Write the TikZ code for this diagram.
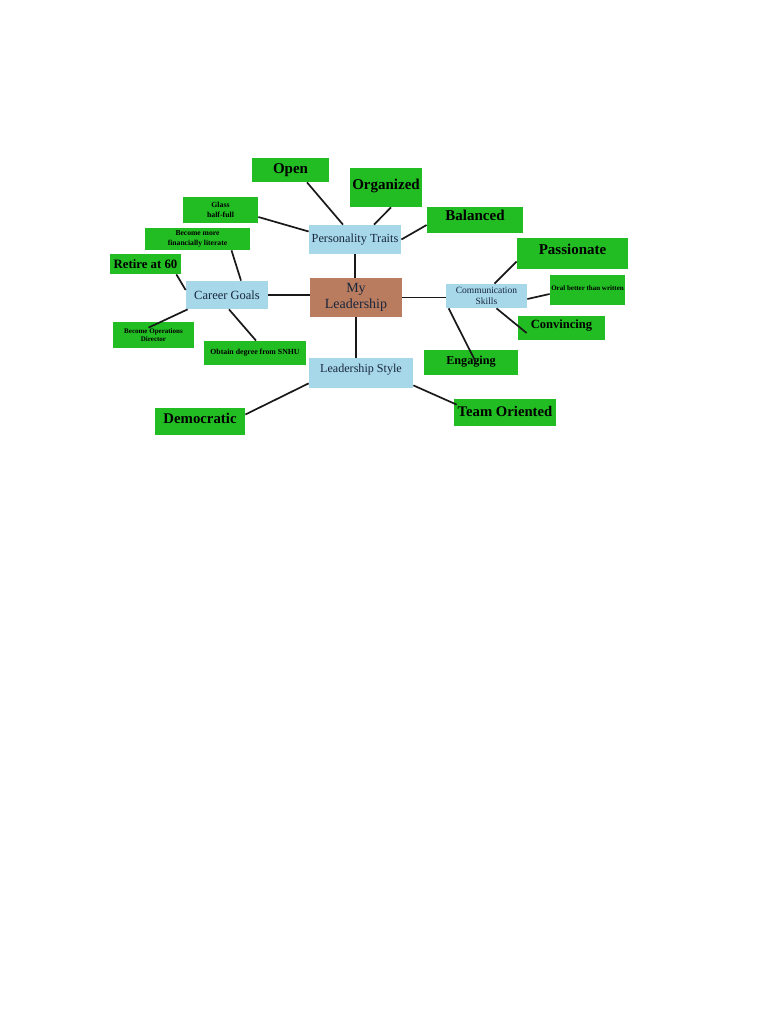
\documentclass[tikz,border=0pt]{standalone}
\usepackage{fontspec}
\setmainfont{Liberation Serif}
\usetikzlibrary{calc}

\definecolor{leafgreen}{RGB}{34,189,34}
\definecolor{topicblue}{RGB}{166,216,234}
\definecolor{corebrown}{RGB}{185,124,94}
\definecolor{topicink}{RGB}{25,38,60}

\tikzset{every picture/.style={line width=0.75pt},
  leaf/.style={fill=leafgreen, inner sep=0pt, align=center, font=\bfseries},
  topic/.style={fill=topicblue, inner sep=0pt, align=center, text=topicink},
  link/.style={draw=black!90, line width=1.7pt}}

\begin{document}
\begin{tikzpicture}[x=1pt,y=1pt,yscale=-1,xscale=1]
\useasboundingbox (0,0) rectangle (768,1024);

% Centre
\node [fill=corebrown, inner sep=0pt, align=center, minimum width=92pt, minimum height=39pt, font=\fontsize{14}{16}\selectfont, text=topicink] (ml) at (356,297.5) {My\\Leadership};

% Topics
\node [topic, minimum width=92pt, minimum height=29pt, font=\fontsize{12.3}{14}\selectfont] (pt) at (355,239.5) {Personality Traits};
\node [topic, minimum width=82pt, minimum height=28pt, font=\fontsize{12.5}{14}\selectfont] (cg) at (227,295) {Career Goals};
\node [topic, minimum width=81pt, minimum height=24pt, font=\fontsize{9.5}{11.5}\selectfont] (cs) at (486.5,296) {Communication\\Skills};
\node [topic, minimum width=104pt, minimum height=30pt, text depth=9pt, font=\fontsize{12.1}{14}\selectfont] (ls) at (361,373) {Leadership Style};

% Personality traits
\node [leaf, minimum width=77pt, minimum height=24pt, font=\bfseries\fontsize{15}{17}\selectfont] (open) at (290.5,170) {Open};
\node [leaf, minimum width=72pt, minimum height=39pt, text depth=7pt, font=\bfseries\fontsize{15}{17}\selectfont] (organized) at (386,187.5) {Organized};
\node [leaf, minimum width=75pt, minimum height=26pt, font=\bfseries\fontsize{7.8}{10}\selectfont] (glass) at (220.5,210) {Glass\\half-full};
\node [leaf, minimum width=96pt, minimum height=26pt, text depth=9pt, font=\bfseries\fontsize{15}{17}\selectfont] (balanced) at (475,220) {Balanced};

% Career goals
\node [leaf, minimum width=105pt, minimum height=22pt, font=\bfseries\fontsize{7.6}{9.5}\selectfont] (fin) at (197.5,239) {Become more\\financially literate};
\node [leaf, minimum width=71pt, minimum height=20pt, font=\bfseries\fontsize{12.8}{14}\selectfont] (retire) at (145.5,264) {Retire at 60};
\node [leaf, minimum width=81pt, minimum height=26pt, font=\bfseries\fontsize{7}{8.5}\selectfont] (ops) at (153.5,335) {Become Operations\\Director};
\node [leaf, minimum width=102pt, minimum height=24pt, font=\bfseries\fontsize{7.8}{9}\selectfont] (snhu) at (255,353) {Obtain degree from SNHU};

% Communication skills
\node [leaf, minimum width=111pt, minimum height=31pt, text depth=8pt, font=\bfseries\fontsize{15}{17}\selectfont] (passionate) at (572.5,253.5) {Passionate};
\node [leaf, minimum width=75pt, minimum height=30pt, text depth=3pt, font=\bfseries\fontsize{7}{8}\selectfont] (oral) at (587.5,290) {Oral better than written};
\node [leaf, minimum width=87pt, minimum height=24pt, text depth=7pt, font=\bfseries\fontsize{12.5}{14}\selectfont] (convincing) at (561.5,328) {Convincing};
\node [leaf, minimum width=94pt, minimum height=25pt, text depth=5pt, font=\bfseries\fontsize{12.2}{14}\selectfont] (engaging) at (471,362.5) {Engaging};

% Leadership style
\node [leaf, minimum width=90pt, minimum height=27pt, text depth=6pt, font=\bfseries\fontsize{14.8}{17}\selectfont] (democratic) at (200,421.5) {Democratic};
\node [leaf, minimum width=102pt, minimum height=27pt, text depth=3pt, font=\bfseries\fontsize{14.7}{17}\selectfont] (team) at (505,412.5) {Team Oriented};

% Links from the centre
\draw [link] (pt.south) -- (pt.south |- ml.north);
\draw [link] (cg.east) -- (cg.east -| ml.west);
\draw [link] (ml.east) -- (ml.east -| cs.west);
\draw [link] (ml.south) -- (ml.south |- ls.north);

% Links to traits
\draw [link] ($(open.south)+(16.5,0)$) -- ($(pt.north)+(-12,0)$);
\draw [link] ($(organized.south)+(5,0)$) -- ($(pt.north)+(19,0)$);
\draw [link] ($(glass.east)+(0,7)$) -- ($(pt.west)+(0,-8)$);
\draw [link] ($(balanced.west)+(0,5)$) -- (pt.east);

% Links to goals
\draw [link] ($(fin.south)+(34,0)$) -- ($(cg.north)+(14,0)$);
\draw [link] ($(retire.south east)+(-5,0)$) -- ($(cg.west)+(0,-5)$);
\draw [link] ($(cg.south west)+(2,0)$) -- ($(ops.north)+(-5,6)$);
\draw [link] ($(cg.south)+(2,0)$) -- ($(snhu.north)+(1,0)$);

% Links to skills
\draw [link] ($(cs.north)+(8,0)$) -- ($(passionate.west)+(0,8)$);
\draw [link] ($(cs.east)+(0,3)$) -- ($(oral.west)+(0,4)$);
\draw [link] ($(cs.south)+(10,0)$) -- ($(convincing.west)+(9,5)$);
\draw [link] ($(cs.south west)+(3,0)$) -- ($(engaging.center)+(5,0)$);

% Links to style
\draw [link] ($(ls.south west)+(0,-5)$) -- ($(democratic.east)+(0,-7)$);
\draw [link] ($(ls.south east)+(0,-3)$) -- ($(team.north west)+(3,6)$);

\end{tikzpicture}
\end{document}
